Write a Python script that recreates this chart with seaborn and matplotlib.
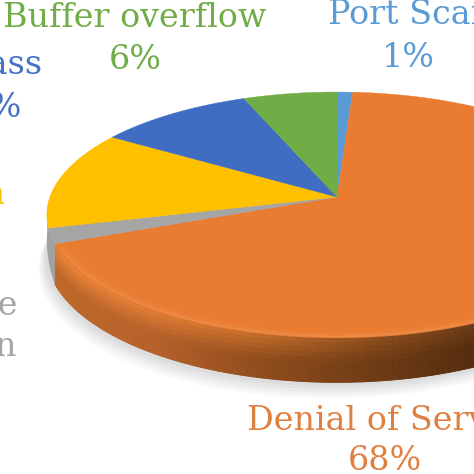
import numpy as np
import seaborn as sns
import matplotlib
import matplotlib.pyplot as plt
from matplotlib.collections import PolyCollection
matplotlib.use('agg')

# clockwise from 12 o'clock
attacks = ["Port Scan", "Denial of Service", "Privilege Escalation", "Code Injection", "Auth Bypass", "Buffer overflow"]
shares = [1, 68, 2, 13, 10, 6]
slice_colors = ["#5B9BD5", "#E97C30", "#A5A5A5", "#FFC000", "#3F6DC1", "#70AD47"]
text_colors = ["#5B9BD5", "#E08040", "#A5A5A5", "#FFC000", "#4472C4", "#70AD47"]

# tilt of the disc, in pixels of the 474 px picture
CX, CY = 337, 197
TILT = 0.146
RX, RY = 287, 120.3
DEPTH = 38


def project(theta):
    x, y = np.cos(np.radians(theta)), np.sin(np.radians(theta))
    return project_xy(x, y)


def project_xy(x, y):
    w = 1 + TILT * y
    return CX + RX * x / w, CY - RY * y / w


def depth_at(theta):
    return DEPTH / (1 + TILT * np.sin(np.radians(theta)))


sns.set_theme(style="white")
fig = plt.figure(figsize=(4.74, 4.74), dpi=100)
ax = fig.add_axes([0, 0, 1, 1])

# the pie gives the angles of the slices
wedges, _ = ax.pie(shares, startangle=90, counterclock=False, colors=slice_colors)
angles = [(w.theta1, w.theta2) for w in wedges]
for w in wedges:
    w.remove()

ax.set_aspect("auto")
ax.set_xlim(0, 474)
ax.set_ylim(474, 0)
ax.axis("off")

# soft shadow under the disc
for extra, alpha in zip([16, 13, 10, 7, 4], [0.04, 0.05, 0.05, 0.06, 0.06]):
    th = np.linspace(140, 400, 300)
    px, py = project(th)
    ax.fill(px - extra * 0.5, py + depth_at(th) + extra, color="#707070", alpha=alpha, lw=0, zorder=1)

# side wall: dull on the left, close to brown on the right
ramp_light = sns.blend_palette(["#E88238", "#DD7A32", "#C06A28", "#8F4E1C", "#683A14"], 425)
ramp_dark = sns.blend_palette(["#BF6A2A", "#B5602A", "#8F4C1C", "#703C14", "#552C0E"], 425)
thetas = np.linspace(201.6, 395, 640)
layers = np.linspace(0, 1, 10)
quads, quad_colors = [], []
for a, b in zip(thetas[:-1], thetas[1:]):
    xa, ya = project(a)
    xb, yb = project(b)
    idx = int(np.clip(xa - 50, 0, 424))
    top, bot = np.array(ramp_light[idx]), np.array(ramp_dark[idx])
    for t0, t1 in zip(layers[:-1], layers[1:]):
        quads.append([(xa, ya + t0 * depth_at(a)), (xb, yb + t0 * depth_at(b)),
                      (xb, yb + t1 * depth_at(b)), (xa, ya + t1 * depth_at(a))])
        quad_colors.append(top + (bot - top) * min(1, t0 * 2))
ax.add_collection(PolyCollection(quads, facecolors=quad_colors, edgecolors=quad_colors, linewidths=0.6, zorder=2))

# small piece of wall under the grey and yellow slices
for th0, th1, col in [(186, 201.6, "#A0A0A0"), (172, 186, "#E8C030")]:
    th = np.linspace(th0, th1, 40)
    px, py = project(th)
    dd = depth_at(th) * np.clip((th - 165) / 36, 0, 1)
    ax.fill(np.r_[px, px[::-1]], np.r_[py, (py + dd)[::-1]], color=col, lw=0, zorder=2)

# top faces
for (t1, t2), col in zip(angles, slice_colors):
    th = np.linspace(t1, t2, 200)
    px, py = project(th)
    ax.fill(np.r_[CX, px], np.r_[CY, py], color=col, lw=0.3, ec=col, zorder=3)

# bevel along the front of the orange slice
for r, col, lw in zip([0.99, 0.98, 0.97], ["#EF8A45", "#EC833C", "#EA7F35"], [1.6, 1.6, 1.6]):
    th = np.linspace(204, 325, 200)
    px, py = project_xy(r * np.cos(np.radians(th)), r * np.sin(np.radians(th)))
    ax.plot(px, py, color=col, lw=lw, solid_capstyle="round", zorder=4)

# labels, cut by the edge of the picture like the reference
font = dict(family="DejaVu Serif", fontsize=24, va="center", zorder=5)
ax.text(3, 18, attacks[5], color=text_colors[5], ha="left", **font)
ax.text(135, 60, f"{shares[5]}%", color=text_colors[5], ha="center", **font)
ax.text(328, 15, attacks[0], color=text_colors[0], ha="left", **font)
ax.text(408, 58, f"{shares[0]}%", color=text_colors[0], ha="center", **font)
ax.text(42, 65, "Bypass", color=text_colors[4], ha="right", **font)
ax.text(22, 108, f"{shares[4]}%", color=text_colors[4], ha="right", **font)
ax.text(5, 195, "Injection", color=text_colors[3], ha="right", **font)
ax.text(18, 306, "Privilege", color=text_colors[2], ha="right", **font)
ax.text(17, 347, "Escalation", color=text_colors[2], ha="right", **font)
ax.text(247, 421, attacks[1], color=text_colors[1], ha="left", **font)
ax.text(385, 461, f"{shares[1]}%", color=text_colors[1], ha="center", **font)

fig.savefig("out.png", dpi=100)
